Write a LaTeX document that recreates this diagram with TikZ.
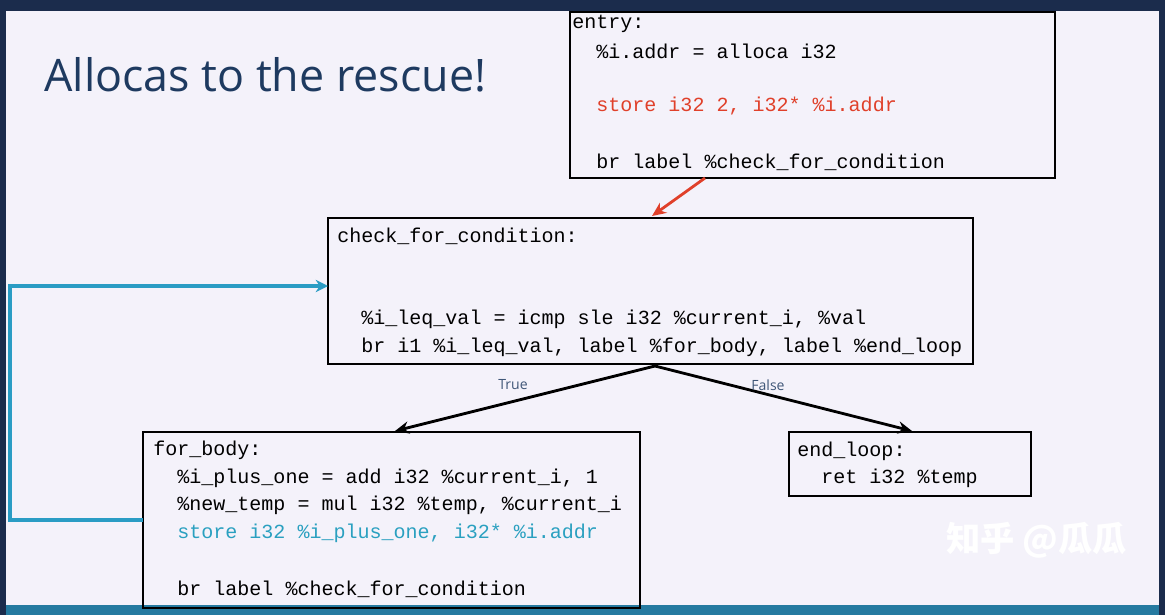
\documentclass[tikz,border=0pt]{standalone}
\usepackage{fontspec}
\setmainfont{Open Sans}
\setmonofont{Liberation Mono}
\newfontfamily\cjk{Noto Sans CJK SC}
\usetikzlibrary{fit,calc,arrows.meta}
\definecolor{slidebg}{HTML}{F4F2FA}
\definecolor{frame}{HTML}{1B2C4C}
\definecolor{titleblue}{HTML}{1E3A60}
\definecolor{codered}{HTML}{E0402A}
\definecolor{codeblue}{HTML}{2AA0C0}
\definecolor{loopblue}{HTML}{2A9CC4}
\begin{document}
\begin{tikzpicture}[x=0.02cm,y=-0.02cm,
  box/.style={draw=black,line width=1.2pt,inner sep=0pt},
  code/.style={anchor=west,inner sep=0pt,font=\fontsize{11.4}{13}\selectfont\ttfamily},
  lbl/.style={font=\fontsize{8}{9}\selectfont\rmfamily,text=titleblue!85},
  arr/.style={line width=1.6pt,-{Stealth[length=8pt,width=7pt]}}]
\useasboundingbox (0,0) rectangle (1165,615);
\fill[frame] (0,0) rectangle (1165,615);
\fill[slidebg] (6,11) rectangle (1159,605);
\fill[loopblue!70!frame] (6,605) rectangle (1159,615);
\node[anchor=west,inner sep=0pt,text=titleblue,font=\fontsize{25.5}{29}\selectfont] (title) at (44,75) {Allocas to the rescue!};
% boxes
\coordinate (e1) at (570,12); \coordinate (e2) at (1055,178);
\node[box,fit=(e1)(e2)] (entry) {};
\coordinate (c1) at (328,218); \coordinate (c2) at (973,364);
\node[box,fit=(c1)(c2)] (check) {};
\coordinate (f1) at (143,432); \coordinate (f2) at (640,608);
\node[box,fit=(f1)(f2)] (body) {};
\coordinate (l1) at (789,432); \coordinate (l2) at (1031,496);
\node[box,fit=(l1)(l2)] (endl) {};
% entry text
\node[code] (t1) at (572,24) {entry:};
\node[code] (t2) at (596,51) {\%i.addr = alloca i32};
\node[code,text=codered] (t3) at (596,106) {store i32 2, i32* \%i.addr};
\node[code] (t4) at (596,162) {br label \%check\_for\_condition};
% check text
\node[code] (t5) at (337,236) {check\_for\_condition:};
\node[code] (t6) at (361,319) {\%i\_leq\_val = icmp sle i32 \%current\_i, \%val};
\node[code] (t7) at (361,347) {br i1 \%i\_leq\_val, label \%for\_body, label \%end\_loop};
% body text
\node[code] (t8) at (153,450) {for\_body:};
\node[code] (t9) at (177,478) {\%i\_plus\_one = add i32 \%current\_i, 1};
\node[code] (t10) at (177,505) {\%new\_temp = mul i32 \%temp, \%current\_i};
\node[code,text=codeblue] (t11) at (177,533) {store i32 \%i\_plus\_one, i32* \%i.addr};
\node[code] (t12) at (177,589) {br label \%check\_for\_condition};
% end_loop text
\node[code] (t13) at (797,451) {end\_loop:};
\node[code] (t14) at (821,478) {ret i32 \%temp};
% connectors
\coordinate (eo) at (705,178);
\coordinate (ci) at (652,216);
\draw[arr,draw=codered] (eo) -- (ci);
\coordinate (co) at (655,366);
\coordinate (bi) at (395,431);
\coordinate (li) at (912,431);
\draw[arr] (co) -- (bi);
\draw[arr] (co) -- (li);
\node[lbl] (true) at (513,385) {True};
\node[lbl] (false) at (768,385) {False};
\coordinate (bo) at (143,520);
\coordinate (cin) at (328,286);
\draw[line width=2.2pt,draw=loopblue,-{Stealth[length=7pt,width=7pt]}] (bo) -- (10,520) -- (10,286) -- (cin);
\node[anchor=west,inner sep=0pt,text=white,font=\cjk\bfseries\fontsize{19.5}{22}\selectfont] (wm) at (946,540) {知乎 @瓜瓜};
\end{tikzpicture}
\end{document}
